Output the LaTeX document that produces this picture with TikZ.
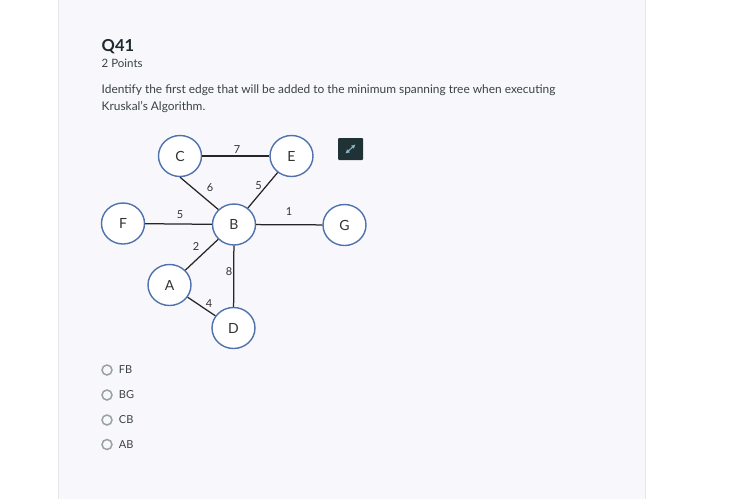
\documentclass[tikz,border=0pt]{standalone}
\usepackage{fontspec}
\setmainfont{Lato}
\usepackage{tikz}
\usetikzlibrary{positioning,shapes.geometric,arrows.meta}
\definecolor{panelbg}{HTML}{F8F8FC}
\definecolor{panelline}{HTML}{E6E6EC}
\definecolor{inktext}{HTML}{3A4245}
\definecolor{headtext}{HTML}{1F2A2E}
\definecolor{nodeline}{HTML}{4F72AE}
\definecolor{radioline}{HTML}{99A1A3}
\definecolor{iconbg}{HTML}{1F3337}
\definecolor{iconarrow}{HTML}{8FB4C2}
\tikzset{
    vertex/.style={ellipse, draw=nodeline, line width=1.4pt, fill=white, minimum width=43pt, minimum height=41pt, inner sep=0pt, font=\fontsize{14}{16}\selectfont, text=black!80},
    link/.style={draw=black!85, line width=1.25pt},
    weight/.style={inner sep=0pt, font=\fontsize{11}{12}\selectfont, text=black!80},
    radio/.style={circle, draw=radioline, line width=1.5pt, minimum size=10pt, inner sep=0pt},
    choice/.style={anchor=west, inner sep=0pt, font=\fontsize{11}{12}\selectfont, text=inktext},
    bodytext/.style={anchor=west, inner sep=0pt, font=\fontsize{11.9}{14}\selectfont, text=inktext}
}
\begin{document}
\begin{tikzpicture}[x=1pt, y=-1pt]
    \useasboundingbox (0,0) rectangle (752,498);
    % Fondo
    \fill[white] (0,0) rectangle (752,498);
    \filldraw[fill=panelbg, draw=panelline, line width=0.6pt] (58,-2) rectangle (645,500);

    % Textos
    \node[anchor=west, inner sep=0pt, font=\fontsize{16.5}{18}\selectfont\bfseries, text=headtext] (title) at (101.5,46.5) {Q41};
    \node[bodytext, font=\fontsize{11.5}{13}\selectfont] (points) at (101.5,63) {2 Points};
    \node[bodytext] (line1) at (101.5,90.5) {Identify the first edge that will be added to the minimum spanning tree when executing};
    \node[bodytext] (line2) at (101.5,107.5) {Kruskal's Algorithm.};

    % Nodos
    \node[vertex] (C) at (180,156) {C};
    \node[vertex] (E) at (291.5,156) {E};
    \node[vertex] (F) at (123,223.5) {F};
    \node[vertex] (B) at (234,224.5) {B};
    \node[vertex] (G) at (344.5,225) {G};
    \node[vertex] (A) at (169.5,285) {A};
    \node[vertex] (D) at (233.5,328) {D};

    % Aristas
    \draw[link] (C) -- (E);
    \draw[link] (C.south) -- (B.north west);
    \draw[link] (E) -- (B);
    \draw[link] (F) -- (B);
    \draw[link] (B) -- (G);
    \draw[link] (A) -- (B);
    \draw[link] (B) -- (D);
    \draw[link] (A) -- (D);

    % Pesos
    \node[weight] (w7) at (237,149.5) {7};
    \node[weight] (w6) at (210,187.5) {6};
    \node[weight] (w5e) at (258.5,185.5) {5};
    \node[weight] (w5f) at (180,215) {5};
    \node[weight] (w1) at (289,212) {1};
    \node[weight] (w2) at (196,247) {2};
    \node[weight] (w8) at (229,272) {8};
    \node[weight] (w4) at (209,303.5) {4};

    % Icono
    \node[fill=iconbg, rounded corners=1pt, minimum width=25pt, minimum height=22pt, inner sep=0pt] (icon) at (350.5,149) {};
    \coordinate (iconlo) at (345.5,153.5);
    \coordinate (iconhi) at (355.5,144.5);
    \draw[iconarrow, line width=1pt, {Latex[length=4pt,width=4.5pt]}-{Latex[length=4pt,width=4.5pt]}] (iconlo) -- (iconhi);

    % Opciones
    \foreach \y/\lab/\nom in {370/FB/fb, 395/BG/bg, 420/CB/cb, 444.5/AB/ab} {
        \node[radio] (r\nom) at (107,\y) {};
        \node[choice, right=6pt of r\nom] (t\nom) {\lab};
    }
\end{tikzpicture}
\end{document}
